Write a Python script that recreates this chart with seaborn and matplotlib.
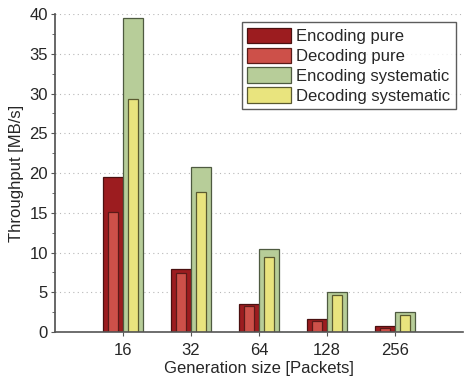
import matplotlib
matplotlib.use("Agg")
import matplotlib.pyplot as plt
from matplotlib.patches import Patch
from matplotlib.ticker import MultipleLocator
import seaborn as sns
import pandas as pd

sns.set_theme(style="white")
plt.rcParams["font.family"] = ["Liberation Sans", "DejaVu Sans"]

# =====================================================
# Data
# =====================================================

generation_sizes = ["16", "32", "64", "128", "256"]

encoding_pure = [19.5, 8.0, 3.5, 1.7, 0.75]
decoding_pure = [15.1, 7.4, 3.3, 1.4, 0.55]
encoding_systematic = [39.5, 20.8, 10.4, 5.1, 2.5]
decoding_systematic = [29.3, 17.6, 9.4, 4.7, 2.2]

labels = [
    "Encoding pure",
    "Decoding pure",
    "Encoding systematic",
    "Decoding systematic",
]

colors = {
    "Encoding pure": "#9c1c1f",
    "Decoding pure": "#cd5049",
    "Encoding systematic": "#b7cd99",
    "Decoding systematic": "#e9e47e",
}

edges = {
    "Encoding pure": "#4a1010",
    "Decoding pure": "#5a1a18",
    "Encoding systematic": "#4e5a40",
    "Decoding systematic": "#5a5a30",
}

encoding = pd.DataFrame({
    "size": generation_sizes * 2,
    "value": encoding_pure + encoding_systematic,
    "series": ["Encoding pure"] * 5 + ["Encoding systematic"] * 5,
})

decoding = pd.DataFrame({
    "size": generation_sizes * 2,
    "value": decoding_pure + decoding_systematic,
    "series": ["Decoding pure"] * 5 + ["Decoding systematic"] * 5,
})

# =====================================================
# Plot
# =====================================================

fig = plt.figure(figsize=(4.74, 3.8), dpi=100)
ax = fig.add_axes([0.116, 0.126, 0.861, 0.837])

enc_order = ["Encoding pure", "Encoding systematic"]
dec_order = ["Decoding pure", "Decoding systematic"]

sns.barplot(
    data=encoding,
    x="size",
    y="value",
    hue="series",
    hue_order=enc_order,
    order=generation_sizes,
    palette=colors,
    saturation=1,
    width=0.58,
    gap=0,
    linewidth=0.9,
    legend=False,
    ax=ax,
)

sns.barplot(
    data=decoding,
    x="size",
    y="value",
    hue="series",
    hue_order=dec_order,
    order=generation_sizes,
    palette=colors,
    saturation=1,
    width=0.58,
    gap=0.5,
    linewidth=0.9,
    legend=False,
    ax=ax,
)

# edge colours per series (containers follow hue order)
for container, name in zip(ax.containers, enc_order + dec_order):
    for patch in container:
        patch.set_edgecolor(edges[name])
        patch.set_linewidth(0.9)

ax.set_xlim(-1.0, 5.0)
ax.set_ylim(0, 40)
ax.yaxis.set_major_locator(MultipleLocator(5))
ax.yaxis.set_minor_locator(MultipleLocator(2.5))

ax.grid(axis="y", which="major", linestyle=(0, (1, 3)), color="#b8b8b8", linewidth=0.8)
ax.set_axisbelow(True)

for side in ["top", "right"]:
    ax.spines[side].set_visible(False)
ax.spines["left"].set_color("#555555")
ax.spines["bottom"].set_color("#555555")
ax.spines["bottom"].set_linewidth(1.2)

ax.tick_params(axis="both", which="major", direction="out", length=3,
               width=0.8, color="#555555", labelsize=12,
               bottom=True, left=True)
ax.tick_params(axis="x", which="major", pad=5)
ax.tick_params(axis="y", which="major", pad=2)
ax.tick_params(axis="y", which="minor", direction="out", length=2,
               width=0.6, color="#555555", left=True)

ax.set_xlabel("Generation size [Packets]", fontsize=12, labelpad=2)
ax.set_ylabel("Throughput [MB/s]", fontsize=12, labelpad=4)

handles = [
    Patch(facecolor=colors[n], edgecolor=edges[n], linewidth=0.9, label=n)
    for n in labels
]

leg = ax.legend(
    handles=handles,
    loc="upper right",
    bbox_to_anchor=(0.99, 0.985),
    fontsize=12,
    frameon=True,
    fancybox=False,
    edgecolor="#333333",
    handlelength=2.6,
    handleheight=1.05,
    handletextpad=0.3,
    labelspacing=0.2,
    borderpad=0.35,
    borderaxespad=0.2,
)
leg.get_frame().set_linewidth(1.0)

fig.savefig("out.png", dpi=100)
